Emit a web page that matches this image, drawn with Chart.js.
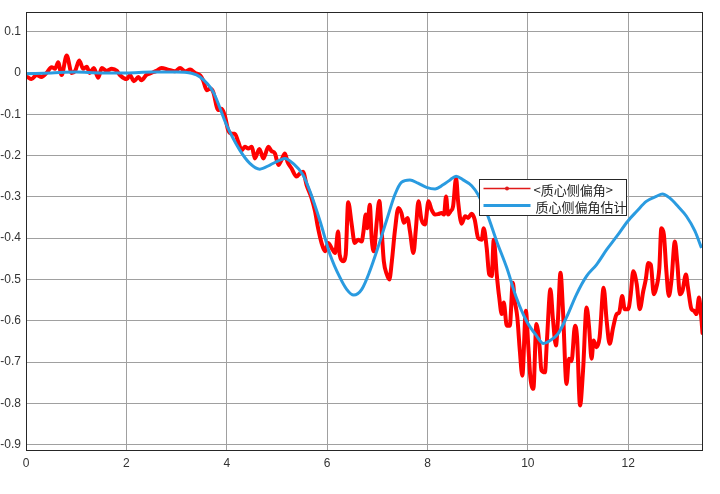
<!DOCTYPE html>
<html>
<head>
<meta charset="utf-8">
<script src="https://cdn.jsdelivr.net/npm/chart.js@4/dist/chart.umd.min.js"></script>
<style>
html,body{margin:0;padding:0;background:#fff;}
#wrap{width:720px;height:494px;position:relative;}
</style>
</head>
<body>
<div id="wrap"><canvas id="c" width="720" height="494"></canvas></div>
<script>
// ---- data ----
const seriesNames = ['<质心侧偏角>', '质心侧偏角估计'];
const xTicks = [0, 2, 4, 6, 8, 10, 12];
const yTicks = [0.1, 0, -0.1, -0.2, -0.3, -0.4, -0.5, -0.6, -0.7, -0.8, -0.9];

const redT = [0.03,0.11,0.21,0.31,0.41,0.51,0.58,0.64,0.71,0.81,0.91,0.98,1.06,1.14,1.21,1.27,1.35,1.44,1.51,1.61,1.71,1.81,1.87,2.01,2.07,2.15,2.24,2.30,2.40,2.50,2.60,2.70,2.83,2.97,3.07,3.17,3.27,3.37,3.47,3.53,3.60,3.67,3.73,3.83,3.90,3.96,4.03,4.10,4.16,4.23,4.30,4.36,4.43,4.50,4.56,4.65,4.73,4.83,4.89,4.96,5.03,5.09,5.16,5.21,5.29,5.39,5.46,5.52,5.59,5.69,5.76,5.82,5.89,5.96,6.02,6.09,6.16,6.22,6.25,6.32,6.37,6.42,6.49,6.55,6.62,6.69,6.72,6.77,6.80,6.85,6.89,6.93,6.99,7.04,7.09,7.13,7.19,7.24,7.29,7.35,7.42,7.48,7.53,7.60,7.65,7.72,7.77,7.82,7.88,7.95,8.02,8.08,8.15,8.21,8.28,8.33,8.37,8.41,8.46,8.51,8.57,8.61,8.68,8.75,8.81,8.88,8.94,9.01,9.08,9.12,9.18,9.23,9.28,9.32,9.38,9.43,9.48,9.52,9.58,9.64,9.70,9.74,9.79,9.84,9.89,9.96,10.01,10.05,10.11,10.17,10.23,10.27,10.34,10.38,10.45,10.50,10.56,10.60,10.65,10.70,10.77,10.82,10.87,10.94,10.98,11.04,11.10,11.17,11.22,11.27,11.31,11.37,11.43,11.51,11.57,11.63,11.70,11.77,11.82,11.88,11.93,12.00,12.05,12.10,12.17,12.23,12.30,12.35,12.40,12.45,12.51,12.56,12.62,12.66,12.71,12.76,12.81,12.86,12.93,12.98,13.03,13.08,13.15,13.19,13.26,13.31,13.36,13.41,13.45,13.48];
const redV = [-0.01,-0.015,-0.005,-0.01,0.0,0.014,0.01,0.026,-0.005,0.042,0.0,0.005,0.03,0.01,0.015,0.0,0.012,-0.012,0.012,0.005,0.01,0.005,-0.005,-0.015,-0.005,-0.02,-0.01,-0.018,-0.005,0.0,0.005,0.012,0.008,0.004,0.012,0.004,0.008,0.0,-0.006,-0.018,-0.042,-0.038,-0.046,-0.09,-0.087,-0.103,-0.139,-0.147,-0.147,-0.167,-0.187,-0.179,-0.183,-0.179,-0.207,-0.184,-0.207,-0.179,-0.189,-0.195,-0.223,-0.211,-0.195,-0.215,-0.231,-0.251,-0.243,-0.239,-0.271,-0.303,-0.335,-0.376,-0.412,-0.432,-0.412,-0.424,-0.436,-0.384,-0.44,-0.456,-0.44,-0.313,-0.367,-0.412,-0.404,-0.408,-0.388,-0.343,-0.376,-0.319,-0.404,-0.432,-0.359,-0.31,-0.388,-0.456,-0.488,-0.5,-0.456,-0.383,-0.327,-0.339,-0.363,-0.351,-0.383,-0.436,-0.376,-0.311,-0.355,-0.367,-0.311,-0.331,-0.343,-0.342,-0.339,-0.343,-0.299,-0.343,-0.335,-0.323,-0.255,-0.311,-0.365,-0.347,-0.351,-0.341,-0.355,-0.4,-0.404,-0.376,-0.424,-0.488,-0.492,-0.404,-0.488,-0.544,-0.584,-0.556,-0.612,-0.612,-0.508,-0.552,-0.592,-0.672,-0.733,-0.576,-0.664,-0.737,-0.765,-0.608,-0.656,-0.72,-0.725,-0.648,-0.524,-0.596,-0.66,-0.596,-0.484,-0.576,-0.753,-0.692,-0.698,-0.612,-0.64,-0.805,-0.72,-0.568,-0.616,-0.692,-0.648,-0.664,-0.64,-0.52,-0.6,-0.656,-0.616,-0.584,-0.58,-0.54,-0.572,-0.572,-0.536,-0.48,-0.512,-0.572,-0.528,-0.5,-0.46,-0.464,-0.536,-0.52,-0.472,-0.376,-0.391,-0.48,-0.54,-0.504,-0.408,-0.464,-0.536,-0.528,-0.488,-0.52,-0.572,-0.576,-0.584,-0.544,-0.584,-0.63];

const blueT = [0,0.5,1.0,1.5,2.0,2.5,3.0,3.3,3.47,3.73,4.00,4.26,4.46,4.66,4.86,5.06,5.16,5.32,5.52,5.66,5.86,6.06,6.25,6.39,6.53,6.69,6.85,7.02,7.19,7.35,7.48,7.65,7.81,7.98,8.15,8.31,8.45,8.57,8.71,8.88,9.01,9.18,9.38,9.58,9.77,9.97,10.17,10.31,10.44,10.60,10.77,10.97,11.17,11.37,11.57,11.77,11.99,12.17,12.36,12.56,12.68,12.83,12.99,13.16,13.33,13.46];
const blueV = [-0.002,0.0,0.002,0.0,0.0,0.002,0.002,-0.001,-0.01,-0.046,-0.127,-0.187,-0.219,-0.233,-0.223,-0.211,-0.207,-0.219,-0.247,-0.287,-0.359,-0.44,-0.494,-0.524,-0.538,-0.524,-0.48,-0.42,-0.355,-0.295,-0.265,-0.259,-0.267,-0.277,-0.281,-0.271,-0.259,-0.25,-0.259,-0.273,-0.295,-0.339,-0.408,-0.472,-0.544,-0.6,-0.636,-0.655,-0.648,-0.632,-0.592,-0.536,-0.492,-0.464,-0.428,-0.396,-0.359,-0.335,-0.311,-0.299,-0.293,-0.303,-0.323,-0.347,-0.383,-0.424];

const RED = '#ff0000';
const BLUE = '#2a9be0';

const frameAndLegend = {
  id: 'frameAndLegend',
  afterDraw(chart) {
    const ctx = chart.ctx;
    const a = chart.chartArea;
    ctx.save();
    // axes box
    ctx.strokeStyle = '#262626';
    ctx.lineWidth = 1;
    ctx.strokeRect(Math.round(a.left) + 0.5, Math.round(a.top) + 0.5, Math.round(a.right - a.left), Math.round(a.bottom - a.top));
    // legend
    const lx = Math.round(a.right) - 222.5, ly = Math.round(a.top) + 167.5, lw = 147, lh = 36;
    ctx.fillStyle = '#ffffff';
    ctx.fillRect(lx, ly, lw, lh);
    ctx.strokeStyle = '#262626';
    ctx.strokeRect(lx, ly, lw, lh);
    // row 1
    ctx.strokeStyle = '#e01a1a';
    ctx.lineWidth = 1.5;
    ctx.beginPath(); ctx.moveTo(lx + 4, ly + 9); ctx.lineTo(lx + 51, ly + 9); ctx.stroke();
    ctx.fillStyle = '#e01a1a';
    ctx.beginPath(); ctx.arc(lx + 27.5, ly + 9, 2, 0, Math.PI * 2); ctx.fill();
    // row 2
    ctx.strokeStyle = BLUE;
    ctx.lineWidth = 3;
    ctx.beginPath(); ctx.moveTo(lx + 4, ly + 26); ctx.lineTo(lx + 51, ly + 26); ctx.stroke();
    ctx.fillStyle = '#262626';
    ctx.font = '13px "Noto Sans CJK SC", sans-serif';
    ctx.textBaseline = 'middle';
    ctx.textAlign = 'left';
    ctx.fillText(seriesNames[0], lx + 54, ly + 11);
    ctx.fillText(seriesNames[1], lx + 56, ly + 27.5);
    ctx.restore();
  }
};

const tickFont = { family: '"Liberation Sans", Arial, sans-serif', size: 12 };

new Chart(document.getElementById('c'), {
  type: 'line',
  data: {
    datasets: [
      {
        label: seriesNames[0],
        data: redT.map((t, i) => ({ x: t, y: redV[i] })),
        borderColor: RED,
        backgroundColor: RED,
        borderWidth: 4,
        pointRadius: 0,
        cubicInterpolationMode: 'monotone',
        borderJoinStyle: 'round',
        borderCapStyle: 'round',
        order: 2
      },
      {
        label: seriesNames[1],
        data: blueT.map((t, i) => ({ x: t, y: blueV[i] })),
        borderColor: BLUE,
        backgroundColor: BLUE,
        borderWidth: 3,
        pointRadius: 0,
        cubicInterpolationMode: 'monotone',
        borderJoinStyle: 'round',
        order: 1
      }
    ]
  },
  options: {
    responsive: false,
    animation: false,
    events: [],
    layout: { padding: { top: 10, right: 18, left: 0, bottom: 0 } },
    plugins: { legend: { display: false }, tooltip: { enabled: false } },
    scales: {
      x: {
        type: 'linear',
        min: 0,
        max: 13.47,
        afterBuildTicks: s => { s.ticks = xTicks.map(v => ({ value: v })); },
        afterFit: s => { s.height = 44; },
        grid: { color: '#a0a0a0', lineWidth: 1, drawTicks: false },
        border: { display: false },
        ticks: { font: tickFont, color: '#333333', padding: 6, maxRotation: 0, autoSkip: false, callback: v => String(v) }
      },
      y: {
        type: 'linear',
        min: -0.913,
        max: 0.147,
        afterBuildTicks: s => { s.ticks = yTicks.map(v => ({ value: v })); },
        afterFit: s => { s.width = 26; },
        grid: { color: '#a0a0a0', lineWidth: 1, drawTicks: false },
        border: { display: false },
        ticks: { font: tickFont, color: '#333333', padding: 5, autoSkip: false, callback: v => String(Math.round(v * 10) / 10) }
      }
    }
  },
  plugins: [frameAndLegend]
});
</script>
</body>
</html>
